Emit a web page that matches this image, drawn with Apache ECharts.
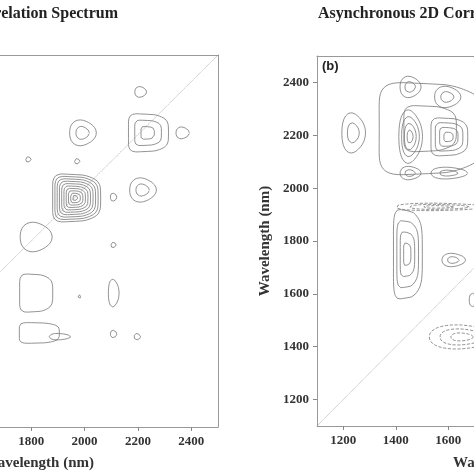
<!DOCTYPE html><html><head><meta charset="utf-8">
<script src="https://cdn.jsdelivr.net/npm/echarts@6/dist/echarts.min.js"></script>
<style>html,body{margin:0;padding:0;background:#fff}#c{width:474px;height:474px}</style></head><body><div id="c"></div>
<script>
const xTicks = [1200,1400,1600,1800,2000,2200,2400];
const yTicks = [1200,1400,1600,1800,2000,2200,2400];
// blobs: [centerX, centerY, radiusX, radiusY, levels, dashed, squareness]
const syncBlobs = [
 [2209,2361,22,20,1,0,0],[2235,2207,75,70,3,0,1],[1991,2207,50,48,2,0,0],[2366,2207,25,22,1,0,0],
 [1789,2107,10,10,1,0,0],[1972,2100,10,10,1,0,0],[1965,1962,90,88,10,0,1],[2108,1965,12,15,1,0,0],
 [2216,1992,50,45,2,0,0],[1815,1815,60,55,1,0,0],[2108,1785,10,10,1,0,0],[1815,1604,62,70,1,0,1],
 [1980,1590,5,8,1,0,0],[2108,1604,20,52,1,0,0],[1826,1454,75,38,1,0,1],[1905,1440,40,12,1,0,0],
 [2108,1450,12,14,1,0,0],[2197,1440,12,12,1,0,0]
];
const asyncBlobs = [
 [1237,2209,45,75,2,0,0],[1525,2225,200,170,2,0,1],[1454,2383,40,40,2,0,0],[1454,2195,45,100,4,0,0],
 [1595,2345,50,40,2,0,0],[1600,2194,70,70,4,0,1],[1454,2057,40,25,2,0,0],[1600,2057,70,22,2,0,0],
 [1560,1929,170,14,3,1,0],[1443,1750,55,165,4,0,1],[1618,1728,45,25,2,0,0],[1650,1437,130,45,3,1,0],
 [1694,1577,15,25,1,0,0]
];
function rings(blobs, xi, yi){
  const out=[];
  blobs.forEach(b=>{
    for(let k=1;k<=b[4];k++){
      const s=k/b[4], pts=[], e=b[6]?0.5:1;
      for(let i=0;i<=60;i++){const a=i/60*2*Math.PI;
        const c=Math.cos(a), sn=Math.sin(a);
        const cx=Math.sign(c)*Math.pow(Math.abs(c),e), sy=Math.sign(sn)*Math.pow(Math.abs(sn),e);
        const r=1+0.06*Math.cos(3*a);
        pts.push([b[0]+b[2]*s*r*cx, b[1]+b[3]*s*r*sy]);}
      out.push({type:'line',xAxisIndex:xi,yAxisIndex:yi,data:pts,showSymbol:false,silent:true,
        lineStyle:{color:'#777',width:0.8,type:b[5]?'dashed':'solid'}});
    }
  });
  out.push({type:'line',xAxisIndex:xi,yAxisIndex:yi,data:[[1100,1100],[2500,2500]],showSymbol:false,silent:true,
    lineStyle:{color:'#999',width:0.8,type:'dotted'}});
  return out;
}
const lab={fontFamily:'Liberation Serif',fontWeight:'bold',fontSize:13,color:'#333'};
const nameStyle=Object.assign({},lab,{fontSize:15});
const line={show:true,lineStyle:{color:'#999'}};
function ax(gi,min,max,ticks,opts){
  return Object.assign({gridIndex:gi,type:'value',min:min,max:max,
    axisLine:line,axisTick:{show:true,length:4,lineStyle:{color:'#888'},customValues:ticks},
    axisLabel:Object.assign({margin:8,customValues:ticks,formatter:v=>String(v)},lab),splitLine:{show:false}},opts||{});
}
const bare=(gi,pos,min,max)=>({gridIndex:gi,type:'value',position:pos,min:min,max:max,axisLine:line,axisTick:{show:false},axisLabel:{show:false},splitLine:{show:false}});
const chart=echarts.init(document.getElementById('c'));
chart.setOption({
 animation:false,
 grid:[{left:0,top:55,width:218,height:372},{left:317,top:56,width:157,height:370}],
 xAxis:[ax(0,1683,2500,xTicks),ax(1,1100,1698,xTicks),bare(0,'top',1683,2500),bare(1,'top',1100,1698)],
 yAxis:[bare(0,'right',1100,2500),
        ax(1,1100,2500,yTicks,{name:'Wavelength (nm)',nameLocation:'middle',nameGap:44,nameTextStyle:nameStyle})],
 graphic:[
  {type:'text',x:118,y:6,style:{text:'Synchronous 2D Correlation Spectrum',font:'bold 16px "Liberation Serif"',fill:'#222',align:'right'}},
  {type:'text',x:318,y:6,style:{text:'Asynchronous 2D Correlation Spectrum',font:'bold 16px "Liberation Serif"',fill:'#222'}},
  {type:'text',x:94,y:456,style:{text:'Wavelength (nm)',font:'bold 15px "Liberation Serif"',fill:'#333',align:'right'}},
  {type:'text',x:453,y:456,style:{text:'Wavelength (nm)',font:'bold 15px "Liberation Serif"',fill:'#333'}},
  {type:'text',x:322,y:60,style:{text:'(b)',font:'bold 13px "Liberation Sans"',fill:'#222'}}
 ],
 series:[...rings(syncBlobs,0,0),...rings(asyncBlobs,1,1)]
});
</script></body></html>
